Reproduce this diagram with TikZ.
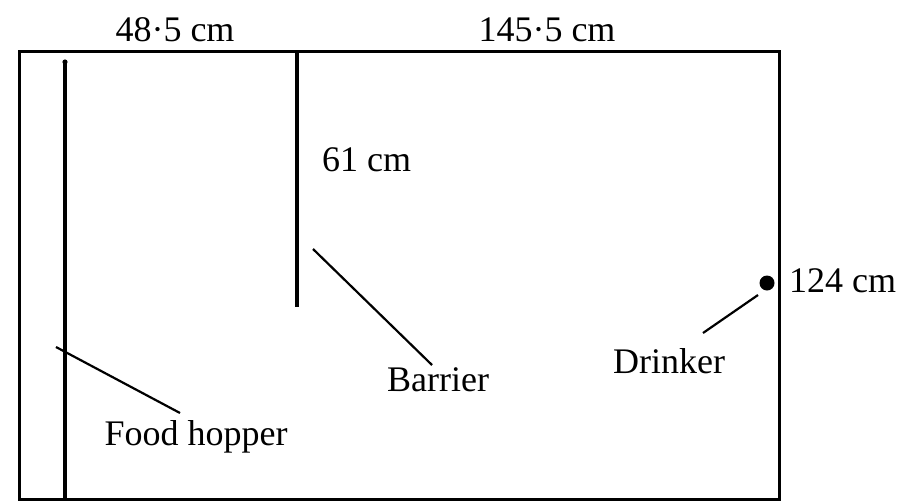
\documentclass[tikz,border=0pt]{standalone}
\usepackage{fontspec}
\setmainfont{Liberation Serif}
\begin{document}
\begin{tikzpicture}[x=1pt,y=-1pt,
  wall/.style={line width=3pt},
  rail/.style={line width=3.6pt},
  leader/.style={line width=2.2pt},
  lbl/.style={font=\fontsize{36}{40}\selectfont, inner sep=0pt}]
\useasboundingbox (0,0) rectangle (901,501);
% pen
\draw[wall] (19,51) rectangle (779,499);
% food hopper
\coordinate (hopTop) at (65,62);
\coordinate (hopBot) at (65,499);
\draw[rail] (hopTop) -- (hopBot);
\fill (hopTop) circle (2.6pt);
% barrier
\coordinate (barTop) at (297,51);
\coordinate (barBot) at (297,307);
\draw[rail] (barTop) -- (barBot);
% drinker
\node[circle, fill, inner sep=0pt, minimum size=15pt] (drinker) at (767,283) {};
% labels
\node[lbl] (d1) at (175,30) {48·5 cm};
\node[lbl] (d2) at (547,30) {145·5 cm};
\node[lbl, anchor=west] (d3) at (322,160) {61 cm};
\node[lbl, anchor=west] (d4) at (789,281) {124 cm};
\node[lbl] (lfood) at (196,437) {Food hopper};
\node[lbl] (lbar) at (438,380) {Barrier};
\node[lbl] (ldrink) at (669,361) {Drinker};
% leaders
\coordinate (fa) at (56,347);
\coordinate (fb) at (180,413);
\coordinate (ba) at (313,249);
\coordinate (bb) at (432,365);
\coordinate (da) at (758,295);
\coordinate (db) at (703,333);
\draw[leader] (fa) -- (fb);
\draw[leader] (ba) -- (bb);
\draw[leader] (da) -- (db);
\end{tikzpicture}
\end{document}
